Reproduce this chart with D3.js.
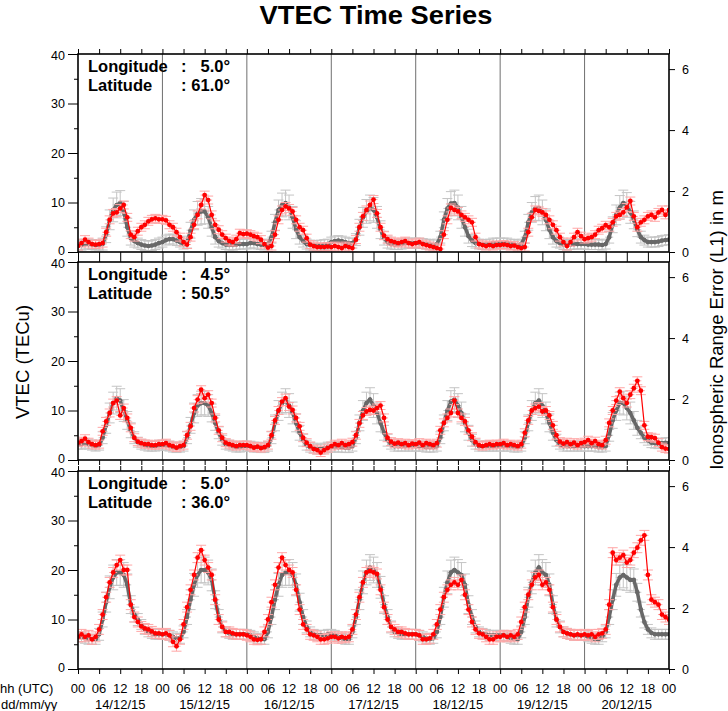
<!DOCTYPE html>
<html><head><meta charset="utf-8">
<script src="https://cdn.jsdelivr.net/npm/d3@7/dist/d3.min.js"></script>
<style>
body{margin:0;background:#fff;}
text{font-family:"Liberation Sans",Arial,Helvetica,sans-serif;}
</style>
</head><body>
<svg id="chart" width="728" height="711"></svg>
<script>
// ---------------- DATA (hourly, 14/12/15 00 UTC .. 21/12/15 00 UTC) ----------------
const dateLabels = ["14/12/15","15/12/15","16/12/15","17/12/15","18/12/15","19/12/15","20/12/15"];
const hourLabels = ["00","06","12","18"];
const lonLabels = ["5.0°","4.5°","5.0°"];
const latLabels = ["61.0°","50.5°","36.0°"];
const leftTicks = [0,10,20,30,40];
const leftMinorTicks = [5,15,25,35];
const rightTicks = [0,2,4,6];

// Panel 1 (lat 61.0)
const red1 = [
 1.2,1.8,2.5,2.0,1.6,1.5,1.6,1.8,4.0,6.5,7.8,8.0,8.8,9.5,7.0,3.5,3.0,4.2,5.0,5.5,6.2,6.6,6.8,6.6,
 6.6,6.4,5.5,5.0,4.0,3.0,2.0,1.5,3.0,5.5,7.5,9.5,11.5,10.5,7.5,5.5,4.5,3.5,2.8,2.2,2.0,2.6,3.8,3.6,
 3.7,3.5,3.2,3.0,2.5,1.6,0.9,1.2,3.5,6.5,8.5,9.2,8.8,8.2,6.5,5.0,4.4,2.8,1.5,1.2,1.0,1.0,1.0,1.1,
 1.0,1.2,1.0,0.8,1.2,1.0,0.8,2.5,5.0,7.2,8.5,9.5,10.6,7.8,5.0,3.3,2.6,2.2,2.0,1.8,2.0,2.2,1.8,1.6,
 1.8,2.0,1.6,1.4,1.2,1.0,0.8,0.6,3.5,6.5,8.9,8.5,8.2,7.5,7.0,6.5,6.0,3.0,1.6,1.4,1.2,1.4,1.2,1.4,
 1.4,1.5,1.4,1.2,1.3,1.0,0.8,1.0,4.0,7.0,8.5,8.3,8.0,7.5,6.5,5.5,4.4,3.0,2.0,1.2,2.0,3.0,4.0,3.2,
 2.6,2.8,3.0,3.5,4.4,4.8,5.4,5.0,6.0,7.2,7.5,8.0,9.0,10.3,7.2,5.0,6.0,6.5,7.2,7.5,7.0,8.0,8.5,7.5,
 8.5];
const gray1 = [
 1.4,1.4,1.6,1.6,1.5,1.4,1.4,1.6,3.5,6.5,8.5,9.5,9.9,8.0,5.0,2.8,2.2,1.8,1.5,1.3,1.2,1.3,1.5,1.8,
 2.0,2.4,2.6,2.6,2.3,2.0,1.6,2.0,4.4,6.5,7.8,8.2,8.2,7.0,5.0,3.0,2.2,1.8,1.5,1.4,1.4,1.5,1.6,1.6,
 1.6,1.8,1.8,1.6,1.5,1.4,1.6,3.0,6.0,8.5,9.5,9.9,9.0,7.0,4.5,3.0,2.2,1.6,1.4,1.3,1.3,1.4,1.5,1.6,
 2.0,2.2,2.3,2.2,2.0,1.8,1.8,2.5,5.0,7.0,8.2,8.9,8.5,7.0,4.5,2.8,2.0,1.6,1.5,1.5,1.6,1.8,1.8,1.8,
 1.8,1.8,1.7,1.6,1.5,1.4,1.6,3.0,6.5,8.8,9.8,9.9,9.0,7.0,5.0,3.2,2.3,1.8,1.6,1.5,1.5,1.6,1.8,1.8,
 1.8,1.8,1.8,1.6,1.5,1.4,1.6,3.0,6.0,8.0,8.8,8.9,8.0,6.5,4.5,3.0,2.2,1.8,1.5,1.4,1.5,1.6,1.6,1.6,
 1.6,1.5,1.5,1.5,1.5,1.4,1.6,3.0,5.5,7.5,9.0,9.9,9.5,8.0,6.5,4.5,3.0,2.4,2.0,2.0,2.0,2.1,2.3,2.4,
 2.5];

// Panel 2 (lat 50.5)
const red2 = [
 3.5,3.8,4.3,3.6,3.2,3.0,3.2,5.8,7.8,9.5,11.5,12.0,9.0,10.5,8.5,6.5,4.5,3.7,3.4,3.2,3.2,3.0,3.0,3.2,
 3.2,3.4,3.0,2.8,2.5,2.8,3.0,5.0,6.8,10.5,12.2,14.2,12.5,13.2,11.5,8.5,6.0,4.5,3.5,3.2,3.0,2.8,3.0,3.0,
 3.0,2.8,2.5,2.7,2.4,2.6,3.0,5.0,8.0,10.0,11.8,12.5,10.8,10.1,8.5,6.8,4.5,3.5,2.8,2.2,2.0,1.5,2.0,2.4,
 2.8,3.2,3.0,3.4,3.0,3.2,3.6,5.0,7.4,9.0,9.8,10.1,10.0,10.5,11.0,8.5,4.5,3.7,3.3,3.5,3.2,3.4,3.0,3.3,
 3.2,3.5,3.0,3.4,3.2,3.0,3.4,6.0,7.5,8.5,9.5,12.0,9.5,8.5,7.8,6.0,4.7,3.6,3.0,2.8,3.0,3.2,3.0,3.2,
 3.2,3.4,3.0,3.2,3.0,2.8,3.2,5.5,8.0,10.0,10.5,10.8,9.8,10.0,9.0,7.0,5.0,3.7,3.3,3.6,3.2,3.5,3.0,3.4,
 3.6,4.0,3.4,3.8,3.2,3.0,4.0,7.5,10.0,12.0,13.8,12.5,11.5,13.2,14.5,16.0,14.0,7.0,4.7,4.6,4.4,3.5,2.6,2.3,
 2.2];
const gray2 = [
 3.2,3.2,3.4,3.2,3.0,2.8,3.0,4.5,7.0,9.5,11.5,12.5,12.0,10.0,8.0,6.0,4.5,3.6,3.2,3.0,2.8,2.8,2.8,3.0,
 3.0,3.0,2.8,2.6,2.5,2.6,2.8,4.5,7.0,9.5,11.0,11.5,11.5,11.0,9.5,7.5,5.5,4.0,3.2,3.0,2.8,2.6,2.6,2.8,
 2.8,2.8,2.6,2.6,2.5,2.5,2.8,4.5,7.5,10.0,11.5,12.0,11.0,9.5,7.5,5.5,4.0,3.0,2.6,2.4,2.2,2.2,2.4,2.6,
 2.6,2.6,2.6,2.6,2.5,2.5,2.8,4.5,7.5,10.0,11.5,12.2,11.0,9.5,7.5,5.5,4.0,3.2,2.8,2.8,2.8,2.8,2.8,2.8,
 2.8,2.8,2.8,2.6,2.6,2.6,2.8,4.5,7.5,10.0,11.8,12.2,11.0,9.5,7.5,5.5,4.0,3.2,2.8,2.8,2.8,2.8,2.8,2.8,
 2.8,2.8,2.8,2.8,2.6,2.6,2.8,4.5,7.5,10.0,11.5,12.0,11.0,9.5,7.5,5.5,4.0,3.2,2.8,2.8,2.8,2.8,2.8,2.8,
 2.8,2.8,2.8,2.8,2.6,2.6,2.8,5.0,8.0,10.0,11.5,11.5,10.5,9.5,8.0,6.5,5.5,4.5,4.0,3.5,3.4,3.3,3.4,3.5,
 3.5];

// Panel 3 (lat 36.0)
const red3 = [
 6.5,7.0,6.5,6.8,6.0,6.5,8.0,11.0,14.5,17.5,19.5,21.0,22.0,20.0,20.0,13.0,10.5,9.5,8.6,8.2,8.0,7.6,7.2,7.2,
 7.0,7.2,6.8,5.5,4.6,6.0,9.0,12.5,16.0,19.0,22.5,24.0,22.0,20.5,19.0,14.0,10.0,8.5,7.5,7.5,7.2,7.0,7.0,7.0,
 6.8,6.5,6.0,5.9,6.0,7.5,10.0,13.5,17.0,20.5,22.5,21.0,20.0,19.5,16.0,12.0,9.0,8.0,7.0,6.8,6.5,6.0,6.0,6.2,
 6.5,6.5,6.2,6.5,6.3,6.5,8.0,11.0,14.5,17.5,19.5,19.8,19.5,19.2,16.0,12.5,10.0,8.5,8.0,7.5,7.5,7.2,7.0,7.0,
 7.0,6.8,6.0,6.0,6.2,7.0,9.0,12.0,14.5,16.0,17.0,17.5,17.0,18.0,15.0,12.0,9.5,8.0,7.2,7.0,6.5,6.0,6.0,6.5,
 6.5,6.8,6.5,6.8,6.5,7.0,9.5,12.5,15.0,17.0,18.5,19.0,17.0,17.5,16.0,12.5,10.0,8.5,7.5,7.2,7.0,6.8,7.0,6.8,
 7.0,6.8,7.0,6.5,7.0,7.2,8.0,13.0,23.5,22.0,22.5,23.0,21.5,22.0,23.5,24.5,26.0,27.0,19.0,14.0,13.5,13.0,11.0,10.5,
 10.0];
const gray3 = [
 6.5,6.5,6.2,6.0,6.0,6.0,7.0,10.0,13.5,16.5,18.5,19.5,19.5,19.0,17.0,13.0,11.0,10.0,9.0,8.0,7.5,7.2,7.0,7.0,
 7.0,7.0,6.8,6.5,6.2,6.2,7.5,10.5,14.0,17.0,19.0,20.0,20.0,19.5,18.0,14.0,10.5,8.5,7.5,7.2,7.0,7.0,7.0,7.0,
 7.0,6.8,6.5,6.2,6.0,6.0,7.5,10.5,14.0,17.0,19.0,19.5,19.5,19.0,17.0,13.5,10.5,8.5,7.5,7.0,6.8,6.8,6.8,7.0,
 7.0,6.8,6.5,6.2,6.0,6.0,7.5,10.5,14.0,17.5,19.5,20.5,20.0,19.0,16.5,13.0,10.5,8.5,7.5,7.2,7.0,7.0,7.0,7.0,
 7.0,6.8,6.5,6.2,6.0,6.2,7.5,10.5,14.5,17.5,19.5,20.0,19.5,19.0,17.0,13.0,10.5,8.5,7.5,7.2,7.0,6.8,6.8,6.8,
 6.8,6.8,6.5,6.2,6.0,6.0,7.5,10.5,14.5,17.5,19.5,20.5,19.5,19.0,17.0,13.0,10.0,8.5,7.5,7.2,7.0,6.8,6.8,6.8,
 6.8,6.5,6.2,6.0,6.0,6.5,7.5,10.5,14.0,17.0,18.5,19.0,18.5,18.0,18.0,15.5,12.0,9.5,8.0,7.3,7.0,7.0,7.0,7.0,
 7.0];

// error (1-sigma, TECu) by hour of day, for the reference (grey) series of each panel
const grayErr1 = [1.0,1.0,1.0,1.0,1.0,1.0,1.0,1.2,1.6,2.0,2.4,2.6,2.5,2.2,1.8,1.4,1.2,1.0,1.0,1.0,1.0,1.0,1.0,1.0];
const grayErr2 = [1.0,1.0,1.0,1.0,1.0,1.0,1.0,1.2,1.6,2.0,2.2,2.4,2.4,2.2,1.8,1.5,1.2,1.0,1.0,1.0,1.0,1.0,1.0,1.0];
const grayErr3 = [1.0,1.0,1.0,1.0,1.0,1.0,1.2,1.5,2.0,2.3,2.5,2.6,2.6,2.5,2.2,1.8,1.5,1.2,1.0,1.0,1.0,1.0,1.0,1.0];
const redErr = [0.8,0.8,1.0];

const panels = [
  {red: red1, gray: gray1, gErr: grayErr1},
  {red: red2, gray: gray2, gErr: grayErr2},
  {red: red3, gray: gray3, gErr: grayErr3}
];

// ---------------- LAYOUT ----------------
const X0 = 78, X1 = 669;
const tops = [54, 262, 471];
const PH = 198;
const TEC2M = 0.1624; // m of L1 range error per TECu

const svg = d3.select("#chart");
const x = d3.scaleLinear().domain([0, 168]).range([X0, X1]);
const hours = d3.range(0, 169);

svg.append("text").attr("transform", "translate(376,23.5) scale(1.07,1)").attr("text-anchor", "middle")
  .attr("font-size", 25.5).attr("font-weight", "bold").text("VTEC Time Series");

panels.forEach((p, i) => {
  const top = tops[i], bot = top + PH;
  const y = d3.scaleLinear().domain([0, 40]).range([bot, top]);
  const yR = d3.scaleLinear().domain([0, 40 * TEC2M]).range([bot, top]);
  const g = svg.append("g");

  const clipId = "clip" + i;
  svg.append("clipPath").attr("id", clipId).append("rect")
    .attr("x", X0).attr("y", top).attr("width", X1 - X0).attr("height", PH);
  const inner = g.append("g").attr("clip-path", `url(#${clipId})`);

  // day separators
  inner.selectAll("line.day").data(d3.range(24, 168, 24)).join("line")
    .attr("x1", d => x(d)).attr("x2", d => x(d)).attr("y1", top).attr("y2", bot)
    .attr("stroke", "#6f6f6f").attr("stroke-width", 1);

  const drawErr = (vals, errFn, color) => {
    const eg = inner.append("g").attr("stroke", color).attr("stroke-width", 1).attr("fill", "none");
    eg.selectAll("path").data(hours).join("path")
      .attr("d", h => {
        const v = vals[h], e = errFn(h);
        const cx = x(h), yl = y(v - e), yh = y(v + e), yc = y(v);
        return `M${cx},${yl}V${yh}M${cx - 5},${yh}H${cx + 5}M${cx - 5},${yl}H${cx + 5}M${cx - 4},${yc}H${cx + 4}`;
      });
  };

  // grey reference series
  drawErr(p.gray, h => p.gErr[h % 24], "#c4c4c4");
  inner.append("path").datum(p.gray)
    .attr("d", d3.line().x((d, h) => x(h)).y(d => y(d)))
    .attr("fill", "none").attr("stroke", "#686868").attr("stroke-width", 3.5);
  inner.selectAll("circle.g").data(p.gray).join("circle").attr("class", "g")
    .attr("cx", (d, h) => x(h)).attr("cy", d => y(d)).attr("r", 2.3).attr("fill", "#686868");

  // red current series
  drawErr(p.red, h => redErr[i], "#ffa6a6");
  inner.append("path").datum(p.red)
    .attr("d", d3.line().x((d, h) => x(h)).y(d => y(d)))
    .attr("fill", "none").attr("stroke", "#ff0000").attr("stroke-width", 1.2);
  inner.selectAll("circle.r").data(p.red).join("circle").attr("class", "r")
    .attr("cx", (d, h) => x(h)).attr("cy", d => y(d)).attr("r", 2.4).attr("fill", "#ff0000");

  // axes
  const styleAxis = sel => { sel.select(".domain").remove(); sel.selectAll("line").attr("stroke", "#000"); sel.selectAll("text").attr("font-size", 12.5).attr("fill", "#000").attr("font-family", '"Liberation Sans",Arial,sans-serif'); };
  const la = g.append("g").attr("transform", `translate(${X0},0)`)
    .call(d3.axisLeft(y).tickValues(leftTicks).tickSize(10).tickPadding(3)).call(styleAxis);
  // keep the 0 of one panel and the 40 of the next from touching
  la.selectAll(".tick text").attr("dy", d => d === 0 ? "0.2em" : d === 40 ? "0.42em" : "0.32em");
  g.append("g").attr("transform", `translate(${X0},0)`)
    .call(d3.axisLeft(y).tickValues(leftMinorTicks).tickSize(4).tickFormat("")).call(styleAxis);
  g.append("g").attr("transform", `translate(${X1},0)`)
    .call(d3.axisRight(yR).tickValues(rightTicks).tickSize(6).tickPadding(7).tickFormat(d3.format("d"))).call(styleAxis);
  g.append("g").attr("transform", `translate(0,${top})`)
    .call(d3.axisTop(x).tickValues(d3.range(0, 169, 6)).tickSize(5).tickFormat("")).call(styleAxis);
  g.append("g").attr("transform", `translate(0,${bot})`)
    .call(d3.axisBottom(x).tickValues(d3.range(0, 169, 6)).tickSize(5).tickFormat("")).call(styleAxis);

  // frame
  g.append("rect").attr("x", X0).attr("y", top).attr("width", X1 - X0).attr("height", PH)
    .attr("fill", "none").attr("stroke", "#000").attr("stroke-width", 1.6);

  // position labels
  const lab = g.append("g").attr("font-size", 16.5).attr("font-weight", "bold");
  lab.append("text").attr("x", 88).attr("y", top + 18).text("Longitude");
  lab.append("text").attr("x", 181).attr("y", top + 18).text(":");
  lab.append("text").attr("x", 230).attr("y", top + 18).attr("text-anchor", "end").text(lonLabels[i]);
  lab.append("text").attr("x", 88).attr("y", top + 37).text("Latitude");
  lab.append("text").attr("x", 181).attr("y", top + 37).text(":");
  lab.append("text").attr("x", 230).attr("y", top + 37).attr("text-anchor", "end").text(latLabels[i]);
});

// bottom hour / date labels
const bottomY = tops[2] + PH;
svg.append("g").selectAll("text").data(d3.range(0, 169, 6)).join("text")
  .attr("x", d => x(d)).attr("y", bottomY + 24).attr("text-anchor", "middle")
  .attr("font-size", 13).text(d => hourLabels[(d / 6) % 4]);
svg.append("g").selectAll("text").data(dateLabels).join("text")
  .attr("x", (d, k) => x(k * 24 + 12)).attr("y", bottomY + 40).attr("text-anchor", "middle")
  .attr("font-size", 13).text(d => d);
svg.append("text").attr("x", 0).attr("y", bottomY + 24).attr("font-size", 13).text("hh (UTC)");
svg.append("text").attr("x", 1).attr("y", bottomY + 40).attr("font-size", 13).text("dd/mm/yy");

// axis titles
svg.append("text").attr("transform", `translate(29,362) rotate(-90)`).attr("text-anchor", "middle")
  .attr("font-size", 18.5).text("VTEC (TECu)");
svg.append("text").attr("transform", `translate(723,330) rotate(-90)`).attr("text-anchor", "middle")
  .attr("font-size", 18.5).text("Ionospheric Range Error (L1) in m");
</script>
</body></html>
